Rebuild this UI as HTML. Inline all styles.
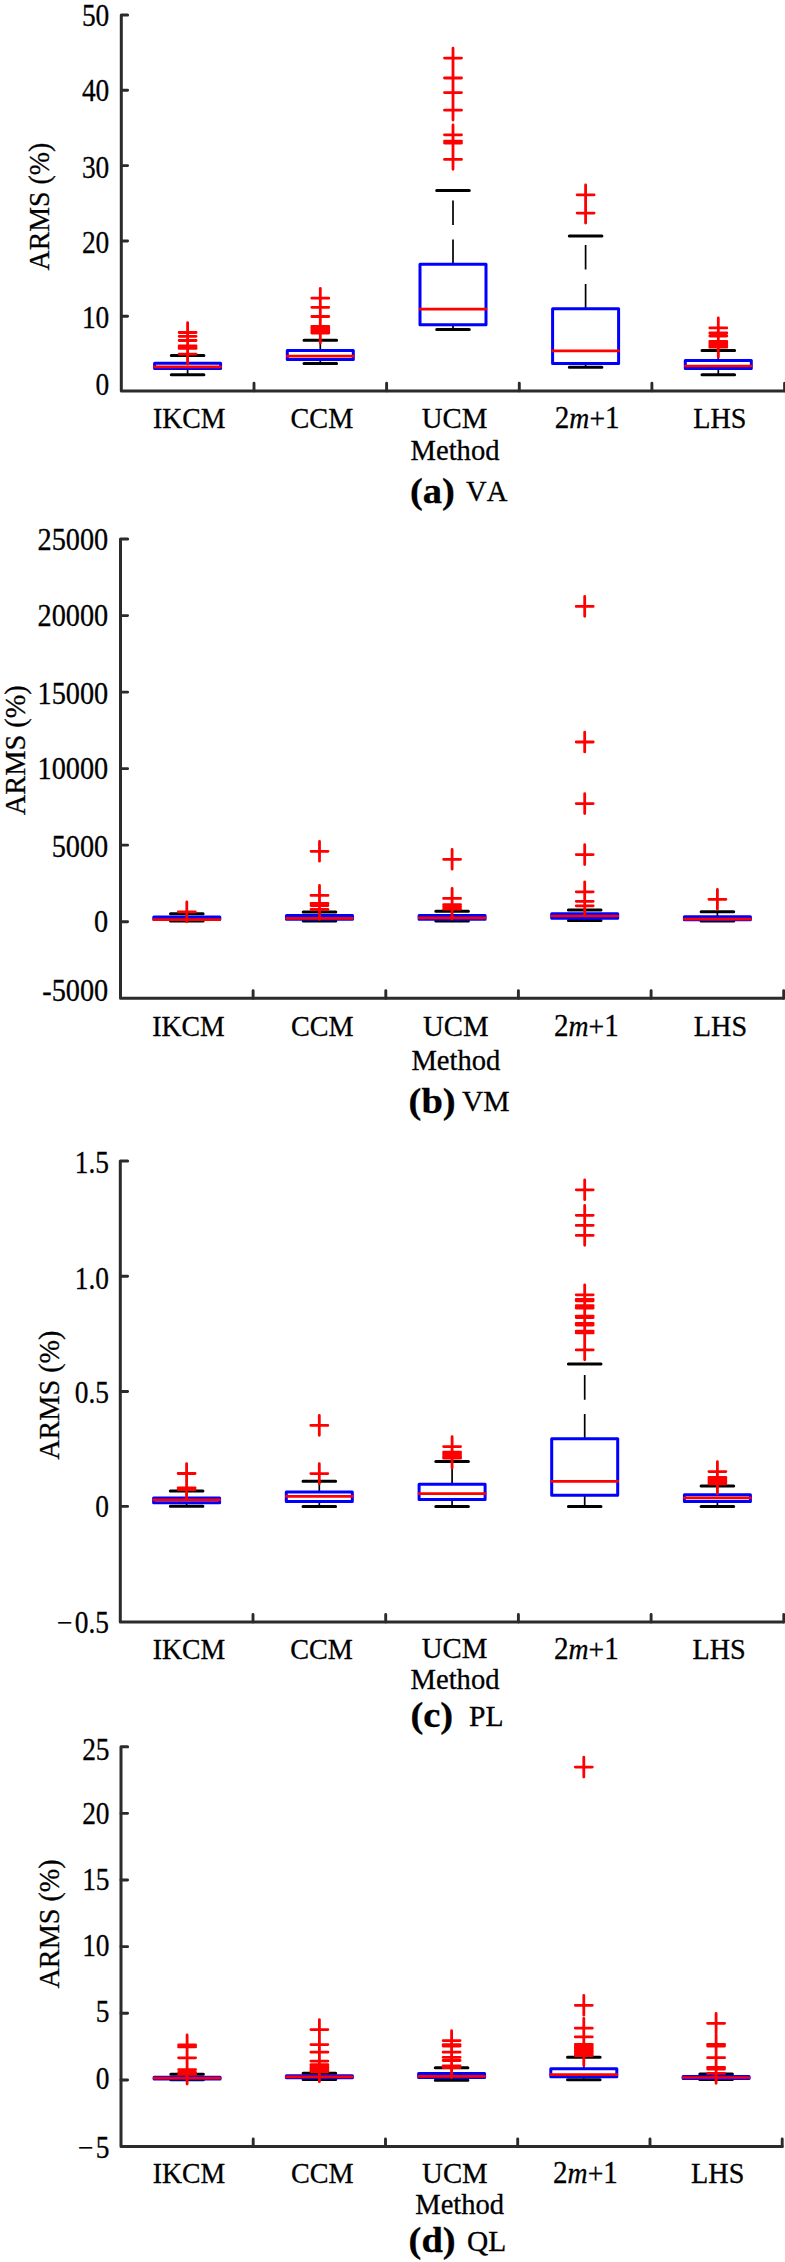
<!DOCTYPE html>
<html lang="en"><head><meta charset="utf-8"><title>ARMS box plots</title>
<style>html,body{margin:0;padding:0;background:#fff}svg{display:block}text{font-family:"Liberation Serif", "DejaVu Serif", serif;fill:#000;font-kerning:none;stroke:#000;stroke-width:0.3px}</style></head><body>
<svg width="785" height="2262" viewBox="0 0 785 2262">
<rect width="785" height="2262" fill="#fff"/>
<g>
<path d="M187.6 363.2V355.6M187.6 368.6V374.7M320.3 350.5V340.2M320.3 359.6V363.4M453.0 264.2V190.4M453.0 324.7V329.6M585.6 308.7V236.0M585.6 363.4V367.3M718.3 360.5V350.6M718.3 368.6V374.8" stroke="#000" stroke-width="1.7" stroke-dasharray="24.7 14.4" fill="none"/>
<path d="M171.3 355.6h32.6M171.3 374.7h32.6M304.0 340.2h32.6M304.0 363.4h32.6M436.7 190.4h32.6M436.7 329.6h32.6M569.3 236.0h32.6M569.3 367.3h32.6M702.0 350.6h32.6M702.0 374.8h32.6" stroke="#000" stroke-width="3" stroke-linecap="round" fill="none"/>
<path d="M154.6 363.2h66.0V368.6h-66.0ZM287.3 350.5h66.0V359.6h-66.0ZM420.0 264.2h66.0V324.7h-66.0ZM552.6 308.7h66.0V363.4h-66.0ZM685.3 360.5h66.0V368.6h-66.0Z" stroke="#0000ff" stroke-width="3" stroke-linejoin="round" fill="none"/>
<path d="M154.6 366.8h66.0M287.3 356.2h66.0M420.0 309.1h66.0M552.6 350.9h66.0M685.3 366.0h66.0" stroke="#ff0000" stroke-width="2.7" stroke-linecap="round" fill="none"/>
<path d="M179.1 332.5h17M187.6 322.6v19.8M179.1 336.3h17M187.6 326.4v19.8M179.1 340.5h17M187.6 330.6v19.8M179.1 346.0h17M187.6 336.1v19.8M179.1 347.2h17M187.6 337.3v19.8M179.1 348.4h17M187.6 338.5v19.8M179.1 354.1h17M187.6 344.2v19.8M311.8 298.2h17M320.3 288.3v19.8M311.8 307.3h17M320.3 297.4v19.8M311.8 316.5h17M320.3 306.6v19.8M311.8 326.3h17M320.3 316.4v19.8M311.8 327.6h17M320.3 317.7v19.8M311.8 328.9h17M320.3 319.0v19.8M311.8 330.2h17M320.3 320.3v19.8M311.8 331.5h17M320.3 321.6v19.8M311.8 332.5h17M320.3 322.6v19.8M311.8 333.1h17M320.3 323.2v19.8M444.5 58.1h17M453.0 48.2v19.8M444.5 78.0h17M453.0 68.1v19.8M444.5 92.6h17M453.0 82.7v19.8M444.5 110.2h17M453.0 100.3v19.8M444.5 134.8h17M453.0 124.9v19.8M444.5 141.2h17M453.0 131.3v19.8M444.5 143.0h17M453.0 133.1v19.8M444.5 159.4h17M453.0 149.5v19.8M577.1 194.8h17M585.6 184.9v19.8M577.1 213.1h17M585.6 203.2v19.8M709.8 327.9h17M718.3 318.0v19.8M709.8 333.0h17M718.3 323.1v19.8M709.8 336.0h17M718.3 326.1v19.8M709.8 341.5h17M718.3 331.6v19.8M709.8 342.8h17M718.3 332.9v19.8M709.8 344.1h17M718.3 334.2v19.8M709.8 345.4h17M718.3 335.5v19.8M709.8 346.5h17M718.3 336.6v19.8M709.8 347.2h17M718.3 337.3v19.8" stroke="#ff0000" stroke-width="2.8" stroke-linecap="round" fill="none"/>
<path d="M127.6 15.0H121.3V390.9H784.6" stroke="#2b2b2b" stroke-width="3" stroke-linejoin="round" stroke-linecap="round" fill="none"/>
<path d="M121.3 90.30H127.6M121.3 165.60H127.6M121.3 241.00H127.6M121.3 316.30H127.6M254.0 390.9v-7.6M386.6 390.9v-7.6M519.3 390.9v-7.6M651.9 390.9v-7.6M784.6 390.9v-7.6" stroke="#2b2b2b" stroke-width="2.9" stroke-linecap="round" fill="none"/>
<text transform="translate(109.25,25.90) scale(0.895,1)" text-anchor="end" font-size="30.6" >50</text>
<text transform="translate(109.25,101.30) scale(0.895,1)" text-anchor="end" font-size="30.6" >40</text>
<text transform="translate(109.25,178.00) scale(0.895,1)" text-anchor="end" font-size="30.6" >30</text>
<text transform="translate(109.25,252.50) scale(0.895,1)" text-anchor="end" font-size="30.6" >20</text>
<text transform="translate(109.25,327.60) scale(0.895,1)" text-anchor="end" font-size="30.6" >10</text>
<text transform="translate(109.25,395.40) scale(0.895,1)" text-anchor="end" font-size="30.6" >0</text>
<text transform="translate(48.90,206.60) rotate(-90) scale(0.93,1)" text-anchor="middle" font-size="30" >ARMS (%)</text>
<text transform="translate(189.23,428.00) scale(0.925,1)" text-anchor="middle" font-size="30" >IKCM</text>
<text transform="translate(321.89,428.00) scale(0.94,1)" text-anchor="middle" font-size="30" >CCM</text>
<text transform="translate(454.55,428.00) scale(0.96,1)" text-anchor="middle" font-size="30" >UCM</text>
<text transform="translate(587.21,428.00) scale(0.925,1)" text-anchor="middle" font-size="30" ><tspan font-size="31.5">2</tspan><tspan font-style="italic">m</tspan>+<tspan font-size="31.5">1</tspan></text>
<text transform="translate(719.87,428.00) scale(0.94,1)" text-anchor="middle" font-size="30" >LHS</text>
<text transform="translate(455.00,460.10) scale(0.953,1)" text-anchor="middle" font-size="30" >Method</text>
<text transform="translate(410.00,502.90) scale(1.05,1)" text-anchor="start" font-size="36.7" font-weight="bold">(a)</text>
<text transform="translate(466.00,501.10) scale(0.955,1)" text-anchor="start" font-size="30" >VA</text>
</g>
<g>
<path d="M186.8 917.0V913.7M186.8 919.6V921.0M319.5 915.6V911.9M319.5 919.2V921.0M452.1 915.6V911.3M452.1 919.2V921.0M584.7 913.7V910.1M584.7 918.3V920.4M717.4 916.7V911.8M717.4 919.8V921.0" stroke="#000" stroke-width="1.7" stroke-dasharray="24.7 14.4" fill="none"/>
<path d="M170.5 913.7h32.6M170.5 921.0h32.6M303.2 911.9h32.6M303.2 921.0h32.6M435.8 911.3h32.6M435.8 921.0h32.6M568.4 910.1h32.6M568.4 920.4h32.6M701.1 911.8h32.6M701.1 921.0h32.6" stroke="#000" stroke-width="3" stroke-linecap="round" fill="none"/>
<path d="M153.8 917.0h66.0V919.6h-66.0ZM286.5 915.6h66.0V919.2h-66.0ZM419.1 915.6h66.0V919.2h-66.0ZM551.7 913.7h66.0V918.3h-66.0ZM684.4 916.7h66.0V919.8h-66.0Z" stroke="#0000ff" stroke-width="3" stroke-linejoin="round" fill="none"/>
<path d="M153.8 919.6h66.0M286.5 918.3h66.0M419.1 917.9h66.0M551.7 916.0h66.0M684.4 919.2h66.0" stroke="#ff0000" stroke-width="2.7" stroke-linecap="round" fill="none"/>
<path d="M178.3 911.9h17M186.8 902.0v19.8M311.0 851.3h17M319.5 841.4v19.8M311.0 895.4h17M319.5 885.5v19.8M311.0 903.4h17M319.5 893.5v19.8M311.0 905.6h17M319.5 895.7v19.8M311.0 909.5h17M319.5 899.6v19.8M443.6 859.3h17M452.1 849.4v19.8M443.6 898.4h17M452.1 888.5v19.8M443.6 904.6h17M452.1 894.7v19.8M443.6 906.8h17M452.1 896.9v19.8M443.6 909.2h17M452.1 899.3v19.8M576.2 606.4h17M584.7 596.5v19.8M576.2 742.0h17M584.7 732.1v19.8M576.2 803.6h17M584.7 793.7v19.8M576.2 854.6h17M584.7 844.7v19.8M576.2 891.8h17M584.7 881.9v19.8M576.2 901.3h17M584.7 891.4v19.8M576.2 905.8h17M584.7 895.9v19.8M708.9 899.3h17M717.4 889.4v19.8" stroke="#ff0000" stroke-width="2.8" stroke-linecap="round" fill="none"/>
<path d="M127.6 539.1H120.5V998.2H783.7" stroke="#2b2b2b" stroke-width="3" stroke-linejoin="round" stroke-linecap="round" fill="none"/>
<path d="M120.5 615.62H127.6M120.5 692.13H127.6M120.5 768.65H127.6M120.5 845.17H127.6M120.5 921.68H127.6M253.1 998.2v-7.6M385.8 998.2v-7.6M518.4 998.2v-7.6M651.1 998.2v-7.6M783.7 998.2v-7.6" stroke="#2b2b2b" stroke-width="2.9" stroke-linecap="round" fill="none"/>
<text transform="translate(108.25,550.40) scale(0.925,1)" text-anchor="end" font-size="30.6" >25000</text>
<text transform="translate(108.25,626.00) scale(0.925,1)" text-anchor="end" font-size="30.6" >20000</text>
<text transform="translate(108.25,703.80) scale(0.925,1)" text-anchor="end" font-size="30.6" >15000</text>
<text transform="translate(108.25,779.00) scale(0.925,1)" text-anchor="end" font-size="30.6" >10000</text>
<text transform="translate(108.25,857.30) scale(0.925,1)" text-anchor="end" font-size="30.6" >5000</text>
<text transform="translate(108.25,931.90) scale(0.925,1)" text-anchor="end" font-size="30.6" >0</text>
<text transform="translate(108.25,1001.30) scale(0.925,1)" text-anchor="end" font-size="30.6" >-5000</text>
<text transform="translate(25.20,750.20) rotate(-90) scale(0.945,1)" text-anchor="middle" font-size="30" >ARMS (%)</text>
<text transform="translate(188.42,1036.40) scale(0.925,1)" text-anchor="middle" font-size="30" >IKCM</text>
<text transform="translate(322.26,1036.40) scale(0.94,1)" text-anchor="middle" font-size="30" >CCM</text>
<text transform="translate(455.70,1036.40) scale(0.96,1)" text-anchor="middle" font-size="30" >UCM</text>
<text transform="translate(586.34,1036.40) scale(0.925,1)" text-anchor="middle" font-size="30" ><tspan font-size="31.5">2</tspan><tspan font-style="italic">m</tspan>+<tspan font-size="31.5">1</tspan></text>
<text transform="translate(720.48,1036.40) scale(0.94,1)" text-anchor="middle" font-size="30" >LHS</text>
<text transform="translate(455.90,1070.40) scale(0.953,1)" text-anchor="middle" font-size="30" >Method</text>
<text transform="translate(408.60,1113.20) scale(1.05,1)" text-anchor="start" font-size="36.7" font-weight="bold">(b)</text>
<text transform="translate(461.90,1111.00) scale(0.987,1)" text-anchor="start" font-size="30" >VM</text>
</g>
<g>
<path d="M186.6 1497.9V1491.0M186.6 1502.8V1506.2M319.3 1492.0V1481.3M319.3 1501.6V1506.6M452.1 1484.2V1461.4M452.1 1499.4V1506.6M584.7 1438.8V1363.9M584.7 1495.3V1506.5M717.4 1494.8V1486.0M717.4 1501.5V1506.4" stroke="#000" stroke-width="1.7" stroke-dasharray="24.7 14.4" fill="none"/>
<path d="M170.3 1491.0h32.6M170.3 1506.2h32.6M303.0 1481.3h32.6M303.0 1506.6h32.6M435.8 1461.4h32.6M435.8 1506.6h32.6M568.4 1363.9h32.6M568.4 1506.5h32.6M701.1 1486.0h32.6M701.1 1506.4h32.6" stroke="#000" stroke-width="3" stroke-linecap="round" fill="none"/>
<path d="M153.6 1497.9h66.0V1502.8h-66.0ZM286.3 1492.0h66.0V1501.6h-66.0ZM419.1 1484.2h66.0V1499.4h-66.0ZM551.7 1438.8h66.0V1495.3h-66.0ZM684.4 1494.8h66.0V1501.5h-66.0Z" stroke="#0000ff" stroke-width="3" stroke-linejoin="round" fill="none"/>
<path d="M153.6 1499.9h66.0M286.3 1496.4h66.0M419.1 1493.6h66.0M551.7 1481.3h66.0M684.4 1497.9h66.0" stroke="#ff0000" stroke-width="2.7" stroke-linecap="round" fill="none"/>
<path d="M178.1 1473.5h17M186.6 1463.6v19.8M178.1 1487.8h17M186.6 1477.9v19.8M178.1 1489.6h17M186.6 1479.7v19.8M310.8 1425.4h17M319.3 1415.5v19.8M310.8 1473.6h17M319.3 1463.7v19.8M443.6 1446.6h17M452.1 1436.7v19.8M443.6 1452.2h17M452.1 1442.3v19.8M443.6 1453.6h17M452.1 1443.7v19.8M443.6 1455.0h17M452.1 1445.1v19.8M443.6 1456.4h17M452.1 1446.5v19.8M443.6 1457.4h17M452.1 1447.5v19.8M443.6 1458.2h17M452.1 1448.3v19.8M576.2 1189.8h17M584.7 1179.9v19.8M576.2 1215.3h17M584.7 1205.4v19.8M576.2 1225.4h17M584.7 1215.5v19.8M576.2 1235.4h17M584.7 1225.5v19.8M576.2 1294.8h17M584.7 1284.9v19.8M576.2 1299.3h17M584.7 1289.4v19.8M576.2 1300.8h17M584.7 1290.9v19.8M576.2 1305.7h17M584.7 1295.8v19.8M576.2 1308.0h17M584.7 1298.1v19.8M576.2 1316.1h17M584.7 1306.2v19.8M576.2 1317.6h17M584.7 1307.7v19.8M576.2 1323.5h17M584.7 1313.6v19.8M576.2 1325.0h17M584.7 1315.1v19.8M576.2 1331.1h17M584.7 1321.2v19.8M576.2 1332.9h17M584.7 1323.0v19.8M576.2 1349.9h17M584.7 1340.0v19.8M708.9 1471.6h17M717.4 1461.7v19.8M708.9 1477.5h17M717.4 1467.6v19.8M708.9 1478.8h17M717.4 1468.9v19.8M708.9 1480.1h17M717.4 1470.2v19.8M708.9 1481.4h17M717.4 1471.5v19.8M708.9 1482.7h17M717.4 1472.8v19.8M708.9 1483.8h17M717.4 1473.9v19.8" stroke="#ff0000" stroke-width="2.8" stroke-linecap="round" fill="none"/>
<path d="M127.6 1161.0H120.3V1622.0H783.8" stroke="#2b2b2b" stroke-width="3" stroke-linejoin="round" stroke-linecap="round" fill="none"/>
<path d="M120.3 1276.25H127.6M120.3 1391.50H127.6M120.3 1506.40H127.6M253.0 1622.0v-7.6M385.7 1622.0v-7.6M518.4 1622.0v-7.6M651.1 1622.0v-7.6M783.8 1622.0v-7.6" stroke="#2b2b2b" stroke-width="2.9" stroke-linecap="round" fill="none"/>
<text transform="translate(109.05,1172.60) scale(0.895,1)" text-anchor="end" font-size="30.6" >1.5</text>
<text transform="translate(109.05,1288.85) scale(0.895,1)" text-anchor="end" font-size="30.6" >1.0</text>
<text transform="translate(109.05,1402.60) scale(0.895,1)" text-anchor="end" font-size="30.6" >0.5</text>
<text transform="translate(109.05,1516.95) scale(0.895,1)" text-anchor="end" font-size="30.6" >0</text>
<text transform="translate(109.05,1633.10) scale(0.895,1)" text-anchor="end" font-size="30.6" >−<tspan dx="3">0.5</tspan></text>
<text transform="translate(59.30,1395.20) rotate(-90) scale(0.94,1)" text-anchor="middle" font-size="30" >ARMS (%)</text>
<text transform="translate(188.85,1658.90) scale(0.925,1)" text-anchor="middle" font-size="30" >IKCM</text>
<text transform="translate(321.55,1658.90) scale(0.94,1)" text-anchor="middle" font-size="30" >CCM</text>
<text transform="translate(454.55,1657.90) scale(0.96,1)" text-anchor="middle" font-size="30" >UCM</text>
<text transform="translate(586.35,1658.90) scale(0.925,1)" text-anchor="middle" font-size="30" ><tspan font-size="31.5">2</tspan><tspan font-style="italic">m</tspan>+<tspan font-size="31.5">1</tspan></text>
<text transform="translate(719.05,1658.90) scale(0.94,1)" text-anchor="middle" font-size="30" >LHS</text>
<text transform="translate(455.00,1688.50) scale(0.953,1)" text-anchor="middle" font-size="30" >Method</text>
<text transform="translate(410.40,1726.90) scale(1.05,1)" text-anchor="start" font-size="36.7" font-weight="bold">(c)</text>
<text transform="translate(469.00,1726.10) scale(0.987,1)" text-anchor="start" font-size="30" >PL</text>
</g>
<g>
<path d="M187.1 2077.2V2074.3M187.1 2079.0V2079.8M319.4 2075.8V2073.2M319.4 2077.8V2079.6M451.6 2073.5V2067.8M451.6 2077.5V2080.3M583.8 2068.8V2057.3M583.8 2076.7V2079.8M716.1 2076.6V2073.9M716.1 2078.4V2079.6" stroke="#000" stroke-width="1.7" stroke-dasharray="24.7 14.4" fill="none"/>
<path d="M170.8 2074.3h32.6M170.8 2079.8h32.6M303.1 2073.2h32.6M303.1 2079.6h32.6M435.3 2067.8h32.6M435.3 2080.3h32.6M567.5 2057.3h32.6M567.5 2079.8h32.6M699.8 2073.9h32.6M699.8 2079.6h32.6" stroke="#000" stroke-width="3" stroke-linecap="round" fill="none"/>
<path d="M154.1 2077.2h66.0V2079.0h-66.0ZM286.4 2075.8h66.0V2077.8h-66.0ZM418.6 2073.5h66.0V2077.5h-66.0ZM550.8 2068.8h66.0V2076.7h-66.0ZM683.1 2076.6h66.0V2078.4h-66.0Z" stroke="#0000ff" stroke-width="3" stroke-linejoin="round" fill="none"/>
<path d="M154.1 2078.2h66.0M286.4 2076.8h66.0M418.6 2076.4h66.0M550.8 2074.7h66.0M683.1 2077.5h66.0" stroke="#ff0000" stroke-width="2.7" stroke-linecap="round" fill="none"/>
<path d="M178.6 2044.9h17M187.1 2035.0v19.8M178.6 2046.9h17M187.1 2037.0v19.8M178.6 2057.8h17M187.1 2047.9v19.8M178.6 2069.6h17M187.1 2059.7v19.8M178.6 2072.4h17M187.1 2062.5v19.8M178.6 2074.2h17M187.1 2064.3v19.8M310.9 2029.6h17M319.4 2019.7v19.8M310.9 2044.6h17M319.4 2034.7v19.8M310.9 2052.2h17M319.4 2042.3v19.8M310.9 2061.1h17M319.4 2051.2v19.8M310.9 2064.6h17M319.4 2054.7v19.8M310.9 2066.0h17M319.4 2056.1v19.8M310.9 2067.4h17M319.4 2057.5v19.8M310.9 2068.8h17M319.4 2058.9v19.8M310.9 2070.2h17M319.4 2060.3v19.8M310.9 2071.8h17M319.4 2061.9v19.8M443.1 2040.6h17M451.6 2030.7v19.8M443.1 2044.6h17M451.6 2034.7v19.8M443.1 2046.0h17M451.6 2036.1v19.8M443.1 2052.2h17M451.6 2042.3v19.8M443.1 2057.3h17M451.6 2047.4v19.8M443.1 2060.5h17M451.6 2050.6v19.8M443.1 2066.0h17M451.6 2056.1v19.8M443.1 2067.6h17M451.6 2057.7v19.8M575.3 1767.1h17M583.8 1757.2v19.8M575.3 2005.3h17M583.8 1995.4v19.8M575.3 2028.2h17M583.8 2018.3v19.8M575.3 2036.9h17M583.8 2027.0v19.8M575.3 2044.4h17M583.8 2034.5v19.8M575.3 2045.8h17M583.8 2035.9v19.8M575.3 2047.2h17M583.8 2037.3v19.8M575.3 2048.6h17M583.8 2038.7v19.8M575.3 2050.0h17M583.8 2040.1v19.8M575.3 2051.4h17M583.8 2041.5v19.8M575.3 2052.8h17M583.8 2042.9v19.8M575.3 2054.2h17M583.8 2044.3v19.8M575.3 2055.7h17M583.8 2045.8v19.8M707.6 2023.3h17M716.1 2013.4v19.8M707.6 2044.5h17M716.1 2034.6v19.8M707.6 2046.0h17M716.1 2036.1v19.8M707.6 2057.7h17M716.1 2047.8v19.8M707.6 2067.4h17M716.1 2057.5v19.8M707.6 2069.0h17M716.1 2059.1v19.8M707.6 2073.4h17M716.1 2063.5v19.8" stroke="#ff0000" stroke-width="2.8" stroke-linecap="round" fill="none"/>
<path d="M127.6 1746.7H121.0V2146.6H782.2" stroke="#2b2b2b" stroke-width="3" stroke-linejoin="round" stroke-linecap="round" fill="none"/>
<path d="M121.0 1813.35H127.6M121.0 1880.00H127.6M121.0 1946.65H127.6M121.0 2013.30H127.6M121.0 2079.95H127.6M253.2 2146.6v-7.6M385.5 2146.6v-7.6M517.7 2146.6v-7.6M650.0 2146.6v-7.6M782.2 2146.6v-7.6" stroke="#2b2b2b" stroke-width="2.9" stroke-linecap="round" fill="none"/>
<text transform="translate(109.55,1760.10) scale(0.895,1)" text-anchor="end" font-size="30.6" >25</text>
<text transform="translate(109.55,1823.65) scale(0.895,1)" text-anchor="end" font-size="30.6" >20</text>
<text transform="translate(109.55,1889.80) scale(0.895,1)" text-anchor="end" font-size="30.6" >15</text>
<text transform="translate(109.55,1956.35) scale(0.895,1)" text-anchor="end" font-size="30.6" >10</text>
<text transform="translate(109.55,2022.00) scale(0.895,1)" text-anchor="end" font-size="30.6" >5</text>
<text transform="translate(109.55,2088.95) scale(0.895,1)" text-anchor="end" font-size="30.6" >0</text>
<text transform="translate(109.55,2157.70) scale(0.895,1)" text-anchor="end" font-size="30.6" >−<tspan dx="3">5</tspan></text>
<text transform="translate(59.30,1923.90) rotate(-90) scale(0.94,1)" text-anchor="middle" font-size="30" >ARMS (%)</text>
<text transform="translate(189.02,2182.90) scale(0.925,1)" text-anchor="middle" font-size="30" >IKCM</text>
<text transform="translate(322.26,2182.90) scale(0.94,1)" text-anchor="middle" font-size="30" >CCM</text>
<text transform="translate(454.90,2182.90) scale(0.96,1)" text-anchor="middle" font-size="30" >UCM</text>
<text transform="translate(585.44,2182.90) scale(0.925,1)" text-anchor="middle" font-size="30" ><tspan font-size="31.5">2</tspan><tspan font-style="italic">m</tspan>+<tspan font-size="31.5">1</tspan></text>
<text transform="translate(717.68,2182.90) scale(0.94,1)" text-anchor="middle" font-size="30" >LHS</text>
<text transform="translate(459.70,2213.80) scale(0.953,1)" text-anchor="middle" font-size="30" >Method</text>
<text transform="translate(408.60,2251.90) scale(1.05,1)" text-anchor="start" font-size="36.7" font-weight="bold">(d)</text>
<text transform="translate(467.00,2251.30) scale(0.98,1)" text-anchor="start" font-size="30" >QL</text>
</g>
</svg></body></html>
